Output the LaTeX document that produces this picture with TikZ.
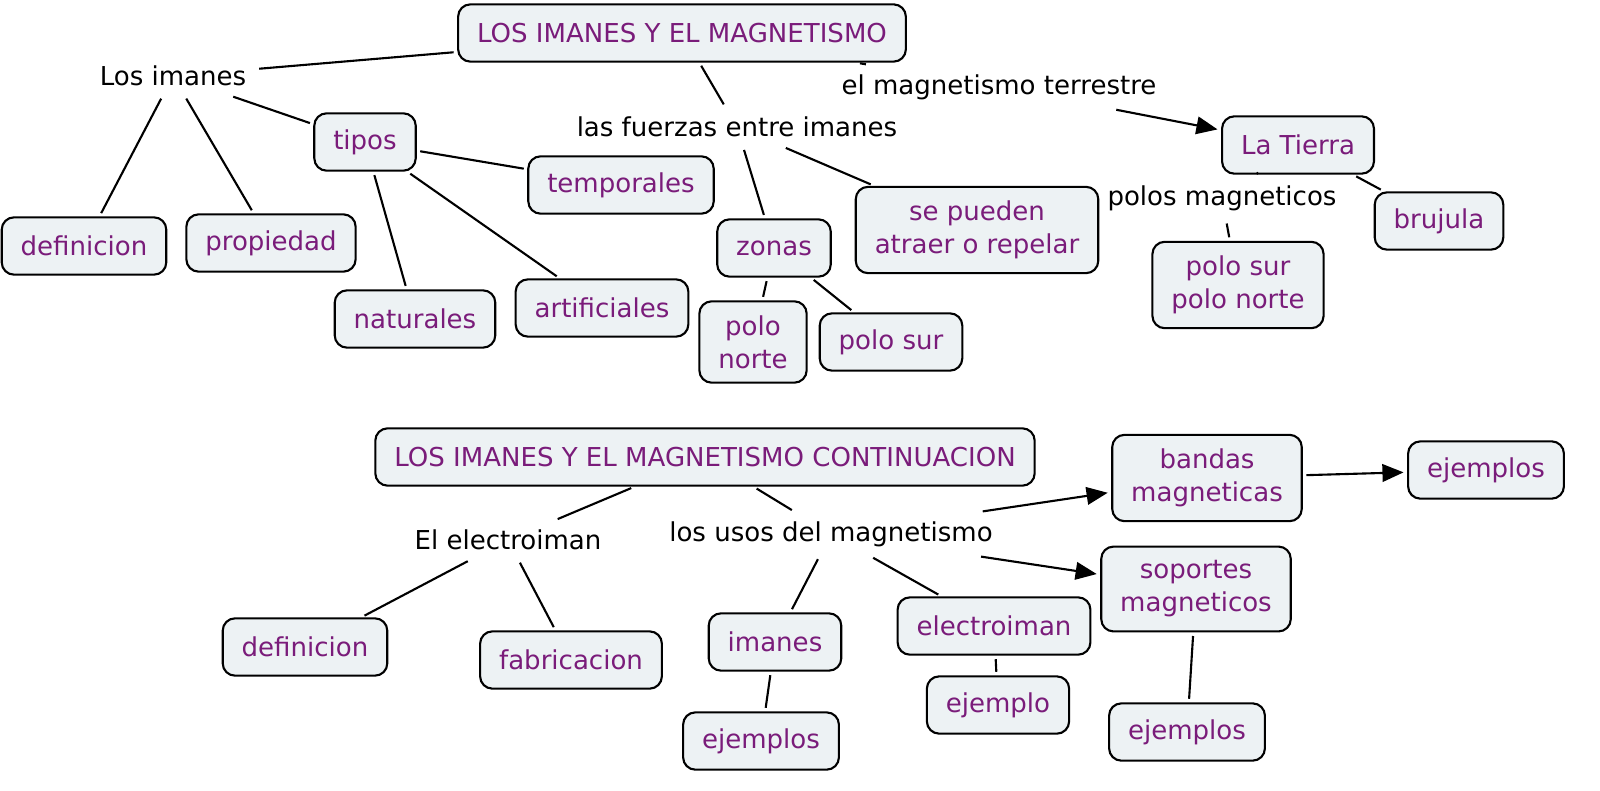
\documentclass[tikz,border=0pt]{standalone}
\usepackage{fontspec}
\setmainfont{DejaVu Sans}
\usetikzlibrary{arrows.meta}
\definecolor{boxfill}{HTML}{EDF2F4}
\definecolor{purp}{HTML}{7A1C7A}
\tikzset{
 concept/.style={draw=black,line width=0.6pt,fill=boxfill,rounded corners=3.5pt,text=purp,
   font=\fontsize{7.4}{9.4}\selectfont,inner xsep=5.4pt,inner ysep=4pt,minimum height=16.3pt,align=center},
 lbl/.style={text=black,font=\fontsize{7.4}{9.4}\selectfont,inner sep=2.5pt},
 conn/.style={line width=0.6pt,shorten <=1pt,shorten >=1pt},
 arr/.style={conn,-{Triangle[length=6pt,width=5pt]}}
}
\begin{document}
\begin{tikzpicture}[x=0.01cm,y=-0.01cm]
\useasboundingbox (0,0) rectangle (1600,791);
% top
\node[concept] (t1) at (682,33) {LOS IMANES Y EL MAGNETISMO};
\node[lbl] (li) at (173,76) {Los imanes};
\node[concept] (tipos) at (365,142) {tipos};
\node[concept] (def1) at (84,246) {definicion};
\node[concept] (prop) at (271,243) {propiedad};
\node[concept] (temp) at (621,185) {temporales};
\node[concept] (nat) at (415,319) {naturales};
\node[concept] (art) at (602,308) {artificiales};
\node[lbl] (fz) at (737,127) {las fuerzas entre imanes};
\node[concept] (zon) at (774,248) {zonas};
\node[concept] (pn) at (753,342) {polo\\norte};
\node[concept] (ps) at (891,342) {polo sur};
\node[concept] (sp) at (977,230) {se pueden\\atraer o repelar};
\node[lbl] (mt) at (999,87) {el magnetismo terrestre};
\node[concept] (lt) at (1298,145) {La Tierra};
\node[lbl] (pm) at (1222,198) {polos magneticos};
\node[concept] (bru) at (1439,221) {brujula};
\node[concept] (pspn) at (1238,285) {polo sur\\polo norte};
% bottom
\node[concept] (t2) at (705,457) {LOS IMANES Y EL MAGNETISMO CONTINUACION};
\node[lbl] (el) at (508,540) {El electroiman};
\node[lbl] (us) at (831,534) {los usos del magnetismo};
\node[concept] (def2) at (305,647) {definicion};
\node[concept] (fab) at (571,660) {fabricacion};
\node[concept] (ban) at (1207,478) {bandas\\magneticas};
\node[concept] (ej1) at (1486,470) {ejemplos};
\node[concept] (sop) at (1196,589) {soportes\\magneticos};
\node[concept] (im) at (775,642) {imanes};
\node[concept] (ej2) at (761,741) {ejemplos};
\node[concept] (ele) at (994,626) {electroiman};
\node[concept] (ej3) at (998,705) {ejemplo};
\node[concept] (ej4) at (1187,732) {ejemplos};
% connectors top
\draw[conn] (t1) -- (li);
\draw[conn] (li) -- (def1);
\draw[conn] (li) -- (prop);
\draw[conn] (li) -- (tipos);
\draw[conn] (tipos) -- (temp);
\draw[conn] (tipos) -- (nat);
\draw[conn] (tipos) -- (art);
\draw[conn] (t1) -- (fz);
\draw[conn] (fz) -- (zon);
\draw[conn] (fz) -- (sp);
\draw[conn] (zon) -- (pn);
\draw[conn] (zon) -- (ps);
\draw[conn] (t1) -- (mt);
\draw[arr] (mt) -- (lt);
\draw[conn] (lt) -- (pm);
\draw[conn] (pm) -- (pspn);
\draw[conn] (lt) -- (bru);
% connectors bottom
\draw[conn] (t2) -- (el);
\draw[conn] (t2) -- (us);
\draw[conn] (el) -- (def2);
\draw[conn] (el) -- (fab);
\draw[conn] (us) -- (im);
\draw[conn] (us) -- (ele);
\draw[arr] (us) -- (ban);
\draw[arr] (us) -- (sop);
\draw[arr] (ban) -- (ej1);
\draw[conn] (im) -- (ej2);
\draw[conn] (ele) -- (ej3);
\draw[conn] (sop) -- (ej4);
\end{tikzpicture}
\end{document}
